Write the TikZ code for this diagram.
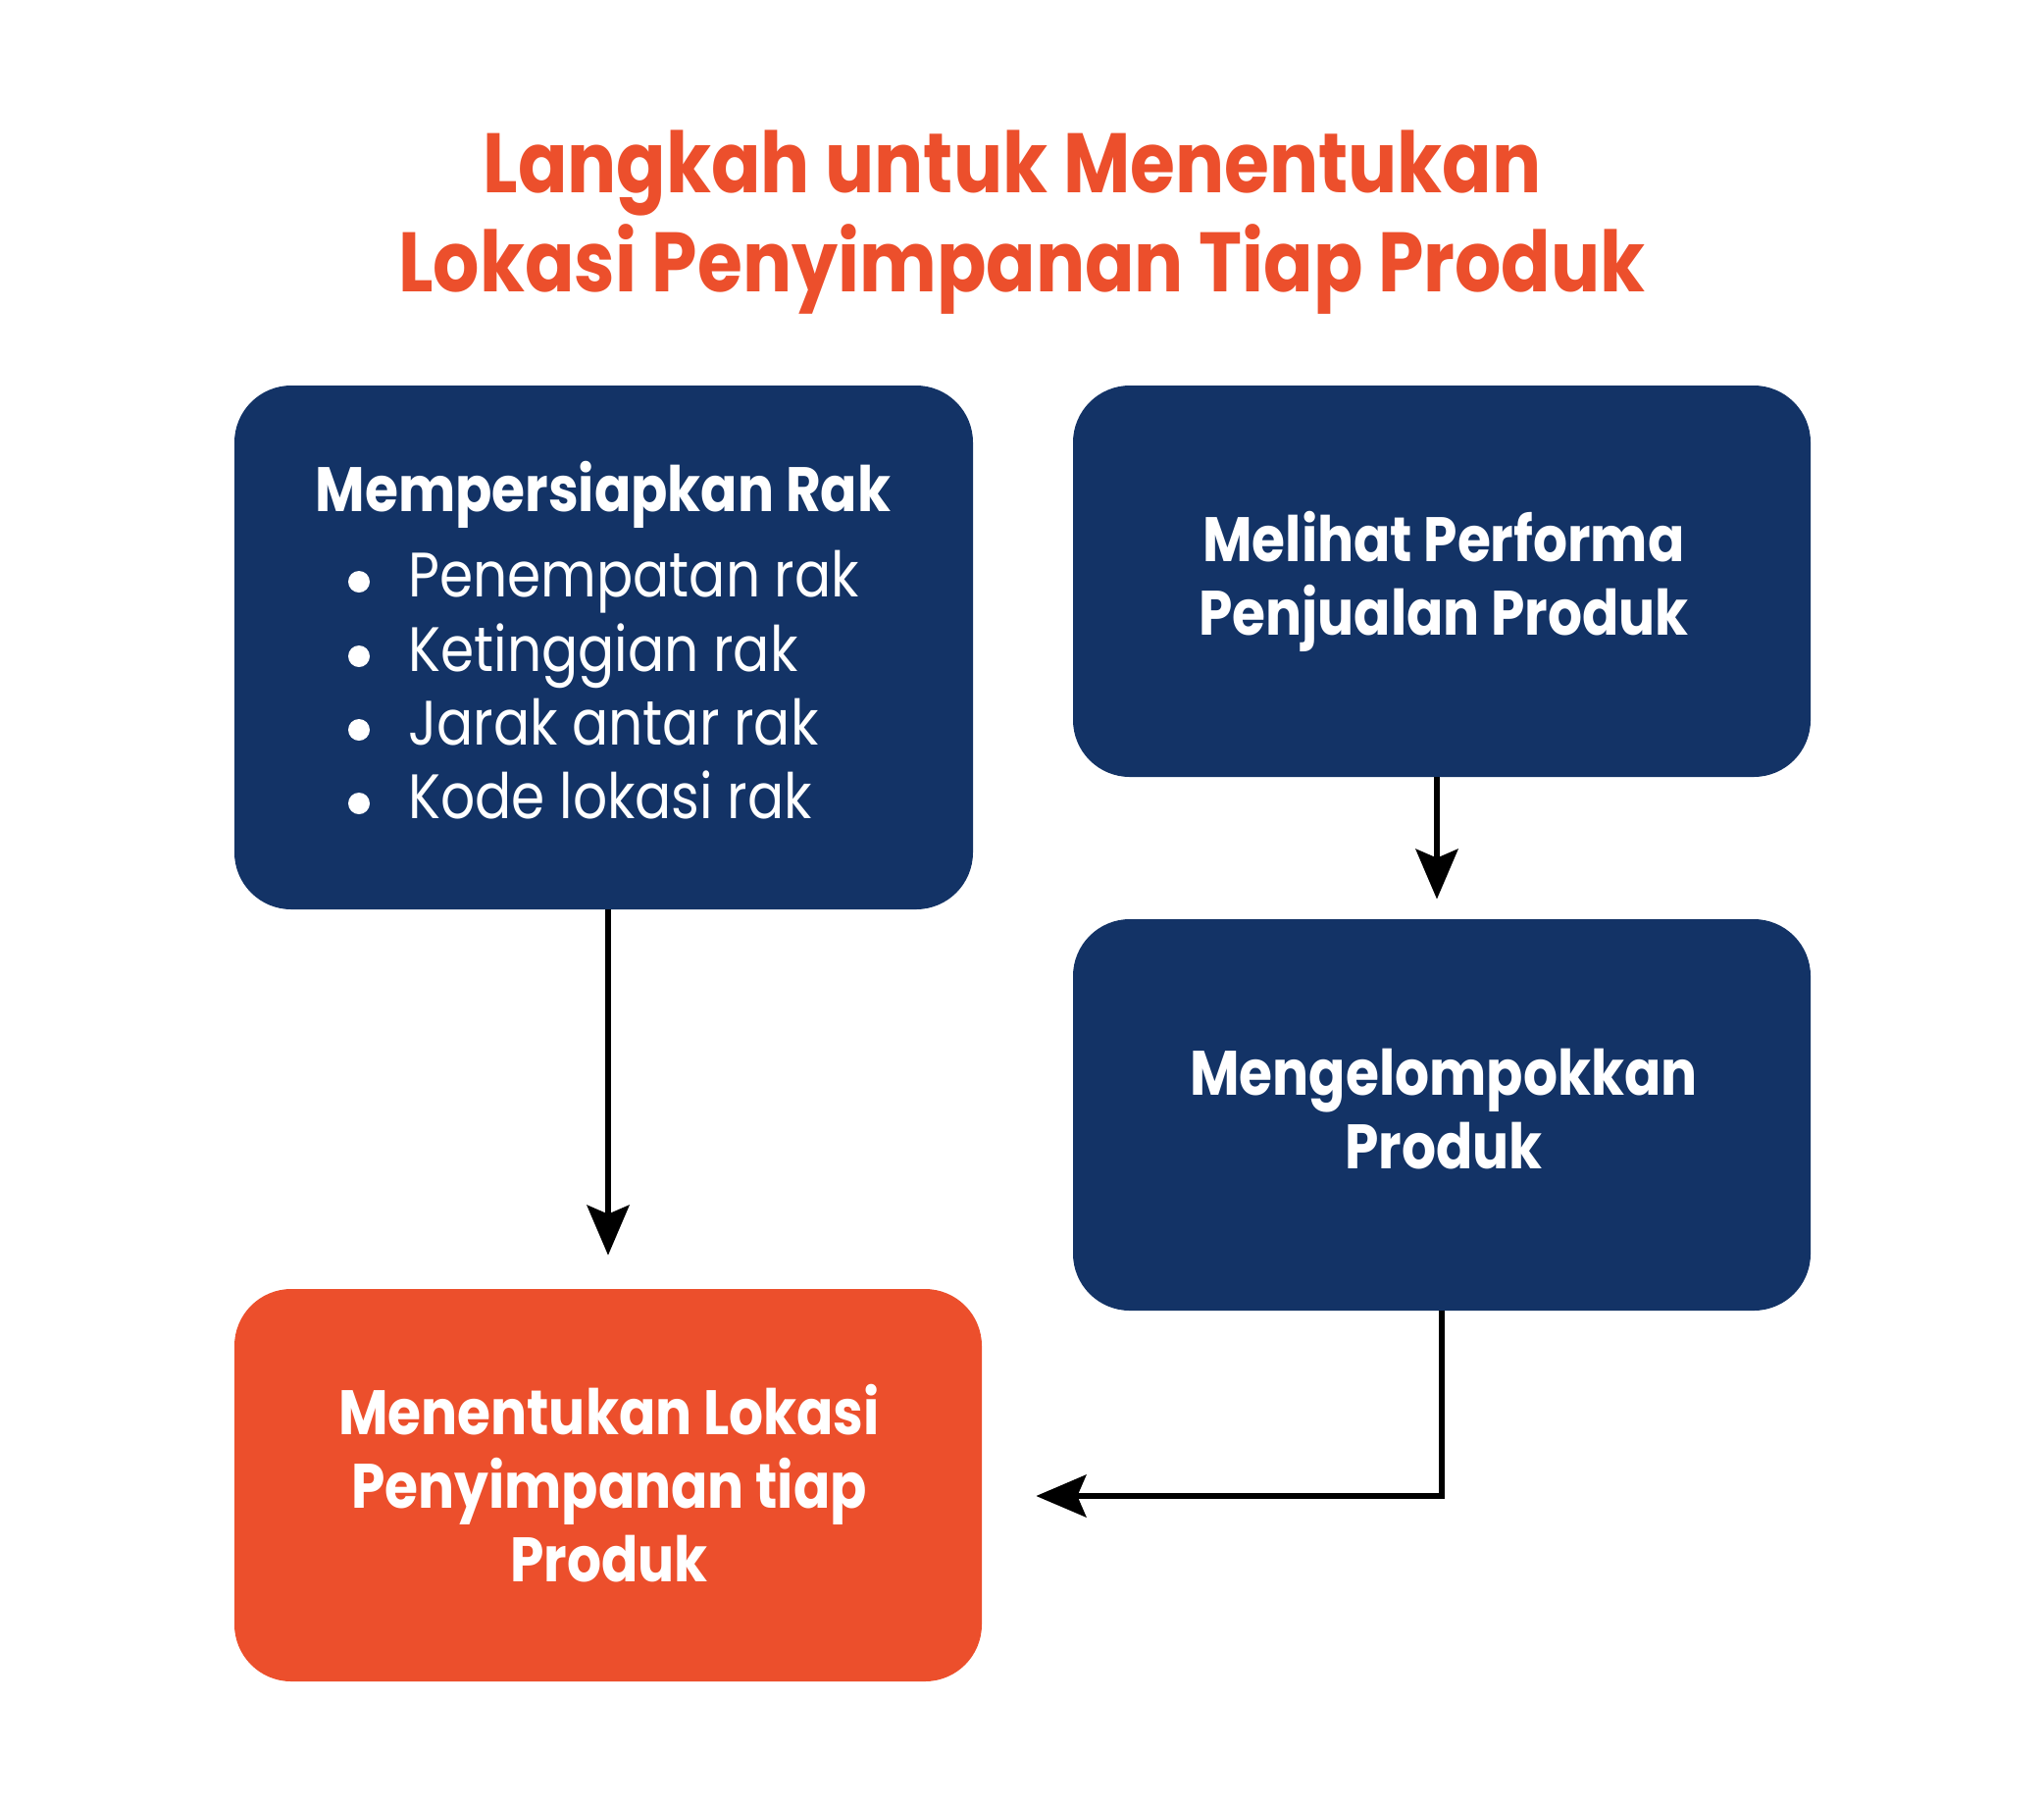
\documentclass[tikz,border=0pt]{standalone}
\usepackage{fontspec}
\setmainfont{Poppins}
\newfontfamily\titlefont{Poppins}[FakeStretch=0.865]
\newfontfamily\boxfont{Poppins}[FakeStretch=0.86]
\newfontfamily\itemfont{Poppins}[FakeStretch=0.86]
\usetikzlibrary{arrows.meta}
\definecolor{navy}{HTML}{133366}
\definecolor{orng}{HTML}{EC4F2C}
\begin{document}
\begin{tikzpicture}[x=0.5pt,y=-0.5pt,
 box/.style={rounded corners=29pt, inner sep=0pt, draw=none},
 navybox/.style={box, fill=navy},
 orangebox/.style={box, fill=orng},
 hd/.style={text=white, font=\boxfont\bfseries\fontsize{32}{37.5}\selectfont, inner sep=0pt, anchor=base},
 itm/.style={text=white, font=\itemfont\fontsize{32}{37.5}\selectfont, anchor=base west, inner sep=0pt},
 dot/.style={circle, fill=white, minimum size=11pt, inner sep=0pt},
 ttl/.style={text=orng, font=\titlefont\bfseries\fontsize{43}{50.5}\selectfont, inner sep=0pt, anchor=base},
 conn/.style={line width=2.9pt, -{Stealth[length=25.5pt,width=21.5pt,inset=4.5pt]}}
]
\useasboundingbox[fill=white] (0,0) rectangle (2084,1838);
% title
\node[ttl] (t1) at (1032,196) {Langkah untuk Menentukan};
\node[ttl] (t2) at (1042,297) {Lokasi Penyimpanan Tiap Produk};
% boxes
\node[navybox, minimum width=376.5pt, minimum height=267pt] (b1) at (615.5,660) {};
\node[navybox, minimum width=376pt, minimum height=199.5pt] (b2) at (1470,592.5) {};
\node[navybox, minimum width=376pt, minimum height=199.5pt] (b3) at (1470,1136.5) {};
\node[orangebox, minimum width=381pt, minimum height=200pt] (b4) at (620,1514) {};
% box 1 content
\node[hd] (h1) at (615,521) {Mempersiapkan Rak};
\node[dot] (d1) at (366,593) {};
\node[dot] (d2) at (366,669) {};
\node[dot] (d3) at (366,744) {};
\node[dot] (d4) at (366,819) {};
\node[itm] (i1) at (416,608) {Penempatan rak};
\node[itm] (i2) at (416,684) {Ketinggian rak};
\node[itm] (i3) at (416,759) {Jarak antar rak};
\node[itm] (i4) at (416,834) {Kode lokasi rak};
% box 2 content
\node[hd] (b2a) at (1472,572) {Melihat Performa};
\node[hd] (b2b) at (1472,647) {Penjualan Produk};
% box 3 content
\node[hd] (b3a) at (1472,1116) {Mengelompokkan};
\node[hd] (b3b) at (1472,1191) {Produk};
% box 4 content
\node[hd] (b4a) at (621,1462) {Menentukan Lokasi};
\node[hd] (b4b) at (621,1537) {Penyimpanan tiap};
\node[hd] (b4c) at (621,1612) {Produk};
% connectors
\draw[conn, shorten >=17pt] (b4.north |- b1.south) -- (b4.north);
\draw[conn, shorten >=10pt] ([xshift=-2.5pt]b2.south) -- ([xshift=-2.5pt]b3.north);
\draw[conn, shorten >=27.5pt] (b3.south) |- ([yshift=-5.5pt]b4.east);
\end{tikzpicture}
\end{document}
